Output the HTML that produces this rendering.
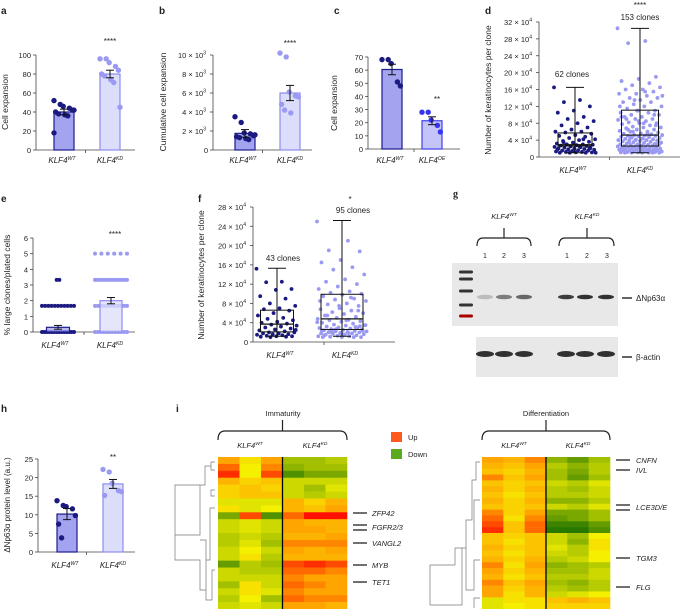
<!DOCTYPE html>
<html><head><meta charset="utf-8"><style>
body{margin:0;background:#fff}
svg{display:block;font-family:"Liberation Sans",sans-serif}
</style></head><body>
<svg id="fig" width="685" height="609" viewBox="0 0 685 609" xmlns="http://www.w3.org/2000/svg"></svg>
<script>
// ---- data ----
const aWT=[52,48,46,44,42,40,38,37,36,42,18], aKD=[96,96,92,88,84,80,78,74,71,45];
const aMean=[40,80], aSem=[3,4];
const bWT=[3.5,2.9,1.8,1.7,1.5,1.4,1.3,1.2,1.1,1.6], bKD=[10.2,9.8,6.1,5.7,5.6,4.8,4.2,3.9];
const bMean=[1.75,6.0], bSem=[0.4,0.8];
const cWT=[68,68,65,51,48], cKD=[28,28,22,18,13];
const cMean=[60.5,21.5], cSem=[4,3];
const hWT=[13.8,12.5,12.2,11.6,9.8,7.5,3.8], hKD=[22.2,21.5,18.5,16.5,16.2,15.2];
const hMean=[10.2,18.3], hSem=[1.5,1.2];
const eLevels=[0,1.67,3.33,5];
const eCountsWT=[14,11,2,0], eCountsKD=[12,12,14,6];
const eMean=[0.3,2.0], eSem=[0.12,0.2];
const dWT=[16.5,13.5,13,12,11,10.5,9.5,9,8.5,8,7.5,7,6.5,6,6,5.8,5.5,5.2,5,4.8,4.5,4.2,4,3.8,3.6,3.4,3.2,3,3,2.9,2.8,2.7,2.6,2.5,2.4,2.3,2.2,2.1,2,2,1.9,1.8,1.7,1.6,1.5,1.5,1.4,1.3,1.2,1.2,1.1,1.1,1,1,1,1,2.5,3.5,2,1.5,1.8,4.2];
const dKD=[30.5,27.5,27,19,18.5,18,17.5,17,16.5,16,16,15.5,15,15,14.5,14,14,13.5,13,13,12.5,12,12,11.5,11,11,10.5,10.5,10,10,9.5,9.5,9,9,8.8,8.5,8.2,8,8,7.8,7.5,7.2,7,7,6.8,6.5,6.5,6.2,6,6,5.8,5.6,5.5,5.4,5.2,5.2,5.1,5,5,4.9,4.8,4.7,4.6,4.5,4.4,4.3,4.2,4.1,4,4,4,3.9,3.8,3.7,3.6,3.5,3.4,3.3,3.2,3.1,3,3,2.9,2.8,2.8,2.7,2.6,2.6,2.5,2.5,2.4,2.3,2.2,2.2,2.1,2,2,2,1.9,1.9,1.8,1.8,1.7,1.7,1.6,1.6,1.5,1.5,1.4,1.4,1.3,1.3,1.2,1.2,1.1,1.1,1,1,1,1,1,1,4,4,4,3.5,3,2.5,2,1.5,6,7,8,9,10,11,12,5.5,4.8,3.8,2.4,1.6,1.2,13.5,14.5,15.5,6.5,7.5,8.5,9.5,1.3,2.1,3.2,4.4];
const dBoxWT=[1,2.6,2.9,5.7,16.5], dBoxKD=[1,2.6,5.2,11.1,30.5];
const fWT=[15.2,12.5,12.4,11,10.8,9.5,9,8,7.5,7,6.8,6.5,6,5.5,5,4.8,4.5,4.2,4,3.8,3.6,3.4,3.2,3,2.8,2.6,2.4,2.2,2,2,1.8,1.8,1.6,1.6,1.5,1.4,1.3,1.2,1.2,1.1,1.1,1,2.5];
const fKD=[25,21,19,18.8,17,16.5,15.5,15,14,13,12.5,12,11.5,11,10.5,10.2,10,9.8,9.5,9,8.8,8.5,8,7.8,7.5,7,6.8,6.5,6.2,6,5.8,5.5,5.2,5,4.8,4.6,4.5,4.3,4.2,4,3.8,3.6,3.5,3.4,3.2,3,3,2.9,2.8,2.7,2.6,2.5,2.4,2.3,2.2,2.2,2.1,2,2,1.9,1.8,1.8,1.7,1.6,1.5,1.5,1.4,1.3,1.2,1.2,1.1,1,1,1,1,2.5,3.5,4.5,5.5,6.5,7.5,8.5,9.2,2,2.3,1.6,1.4,3.1,2.7,4.1,1.9,2.1,3.3,1.7,2.4];
const fBoxWT=[1.2,2.1,3.7,6.6,15.3], fBoxKD=[1.2,2.6,4.8,9.9,25.2];
const heatLeft=[[0.5,0.1,0.5,-0.4,-0.4,-0.3],[0.7,0,0.6,-0.5,-0.4,-0.4],[0.9,0,0.8,-0.8,-0.6,-0.6],[0.4,0.2,0.3,-0.2,-0.2,-0.2],[0.2,0.3,0.2,-0.2,-0.4,-0.1],[0.2,0.3,0.3,-0.2,-0.3,-0.2],[-0.1,-0.1,-0.1,0.4,0.2,0.4],[0.1,-0.1,0,0.4,0.3,0.5],[-0.6,0.8,-0.8,0.7,1,1],[-0.2,-0.1,-0.2,0.5,0.4,0.4],[-0.2,-0.1,-0.2,0.5,0.5,0.4],[-0.3,-0.2,-0.3,0.4,0.4,0.5],[-0.3,-0.1,-0.4,0.6,0.6,0.6],[-0.2,0,-0.2,0.5,0.4,0.5],[-0.2,0.1,-0.3,0.4,0.4,0.4],[-0.7,-0.3,-0.4,0.8,0.9,0.8],[-0.2,-0.3,-0.3,0.7,0.7,0.6],[-0.2,-0.2,-0.2,0.6,0.5,0.5],[-0.4,0.1,-0.2,0.7,0.6,0.5],[-0.2,0.1,-0.1,0.6,0.5,0.5],[-0.3,0,-0.4,0.7,0.6,0.6],[-0.2,-0.1,-0.2,0.5,0.5,0.4]];
const heatRight=[[0.5,0.4,0.6,-0.5,-0.7,-0.4],[0.4,0.3,0.5,-0.3,-0.5,-0.3],[0.3,0.2,0.4,-0.4,-0.6,-0.3],[0.6,0.3,0.5,-0.4,-0.7,-0.4],[0.3,0.2,0.3,-0.2,-0.3,-0.1],[0.4,0.2,0.4,-0.3,-0.4,-0.2],[0.3,0.1,0.3,-0.3,-0.3,-0.2],[0.4,0.2,0.4,-0.5,-0.5,-0.3],[0.3,0.2,0.3,-0.2,-0.3,-0.1],[0.6,0.2,0.5,-0.6,-0.6,-0.4],[0.7,0.1,0.6,-0.7,-0.6,-0.4],[0.8,0.3,0.7,-0.9,-0.9,-0.7],[0.9,0.3,0.7,-1,-1,-0.8],[0.3,0.2,0.3,-0.2,-0.4,0],[0.3,0.1,0.3,-0.2,-0.5,0.1],[0.4,0.2,0.3,-0.1,-0.3,0.1],[0.3,0.1,0.3,-0.2,-0.3,0],[0.4,0.2,0.4,-0.3,-0.2,0],[0.6,0.1,0.5,-0.5,-0.4,-0.3],[0.5,0.2,0.4,-0.4,-0.4,-0.2],[0.4,0.1,0.3,-0.3,-0.3,-0.2],[0.6,0.3,0.5,-0.4,-0.5,-0.3],[0.5,0.2,0.4,-0.3,-0.4,-0.3],[0.5,0.1,0.4,-0.2,-0.1,0],[-0.1,0.1,0.1,0.3,0.4,0.3],[-0.1,0,0.1,0.2,0.2,0.2]];

// ---- helpers ----
const svg=document.getElementById('fig');
const NS='http://www.w3.org/2000/svg';
function mk(tag,attrs,name){const e=document.createElementNS(NS,tag);for(const k in attrs)e.setAttribute(k,attrs[k]);svg.appendChild(e);


return e;}
function txt(x,y,s,name,o){o=o||{};const t=mk('text',{x:x,y:y,'font-size':o.fs||8,'text-anchor':o.anchor||'middle',fill:o.fill||'#222','font-weight':o.fw||'normal'},name);
if(o.rot)t.setAttribute('transform','rotate(-90 '+x+' '+y+')');
if(o.family)t.setAttribute('font-family',o.family);
t.textContent=s;return t;}
function sup(x,y,base,sp,name,fs){fs=fs||8;const t=mk('text',{x:x,y:y,'font-size':fs,'text-anchor':'middle',fill:'#222','font-style':'italic'},name);
t.appendChild(document.createTextNode(base));const s=document.createElementNS(NS,'tspan');s.setAttribute('font-size',fs*0.65);s.setAttribute('dy',-fs*0.4);s.textContent=sp;t.appendChild(s);return t;}
function line(x1,y1,x2,y2,name,c,w){return mk('line',{x1:x1,y1:y1,x2:x2,y2:y2,stroke:c||'#444','stroke-width':w||0.8},name);}
function ySc(y0,y1,max){return v=>y0-(v/max)*(y0-y1);}
function axes(ax,y0,y1,xEnd,ticks,labels,sc,pfx,expo){
  line(ax,y0,ax,y1,pfx+'-y-axis');line(ax,y0,xEnd,y0,pfx+'-x-axis');
  line((ax+xEnd)/2,y0,(ax+xEnd)/2,y0+3,pfx+'-x-tick');
  ticks.forEach((v,i)=>{const y=sc(v);line(ax-3,y,ax,y,pfx+'-y-tick');
    if(expo&&v!==0){const t=txt(ax-5,y+3,labels[i]+' × 10',pfx+'-y-tick-label',{anchor:'end',fs:7.5});
      const s=document.createElementNS(NS,'tspan');s.setAttribute('font-size','5');s.setAttribute('dy','-3.5');s.textContent=expo;t.appendChild(s);
      t.setAttribute('x',ax-7);}
    else txt(ax-5,y+3,labels[i],pfx+'-y-tick-label',{anchor:'end',fs:7.5});});
}
function barPanel(p,ax,y0,y1,xEnd,max,ticks,labels,cx,bw,means,sems,pts,fills,strokes,dots,expo){
  const sc=ySc(y0,y1,max);axes(ax,y0,y1,xEnd,ticks,labels,sc,p,expo);
  [0,1].forEach(g=>{
    mk('rect',{x:cx[g]-bw/2,y:sc(means[g]),width:bw,height:y0-sc(means[g]),fill:fills[g],stroke:strokes[g],'stroke-width':1.2},p+'-bar-'+(g?'kd':'wt'));
    pts[g].forEach((v,i)=>{const off=((i%5)-2)*4.6+((i%2)?1:-1)*0.8;
      mk('circle',{cx:cx[g]+off,cy:sc(v),r:2.7,fill:dots[g]},p+'-point-'+(g?'kd':'wt'));});
    const ya=sc(means[g]+sems[g]),yb=sc(means[g]-sems[g]);
    line(cx[g],ya,cx[g],yb,p+'-error-bar','#111',1);line(cx[g]-4,ya,cx[g]+4,ya,p+'-error-cap','#111',1);line(cx[g]-4,yb,cx[g]+4,yb,p+'-error-cap','#111',1);
  });
  return sc;
}
function boxPanel(p,ax,y0,y1,xEnd,max,ticks,labels,cx,bws,boxes,pts,dots){
  const sc=ySc(y0,y1,max);axes(ax,y0,y1,xEnd,ticks,labels,sc,p,'4');
  [0,1].forEach(g=>{const b=boxes[g],w=bws[g];
    pts[g].forEach((v,i)=>{const f=((i*0.618034)%1)*2-1;
      mk('circle',{cx:cx[g]+f*(w/2+4),cy:sc(v),r:1.9,fill:dots[g]},p+'-point-'+(g?'kd':'wt'));});
    mk('rect',{x:cx[g]-w/2,y:sc(b[3]),width:w,height:sc(b[1])-sc(b[3]),fill:'none',stroke:'#111','stroke-width':1},p+'-box-'+(g?'kd':'wt'));
    line(cx[g]-w/2,sc(b[2]),cx[g]+w/2,sc(b[2]),p+'-median','#111',1.2);
    line(cx[g],sc(b[0]),cx[g],sc(b[4]),p+'-whisker','#111',1);
    line(cx[g]-9,sc(b[4]),cx[g]+9,sc(b[4]),p+'-whisker-cap','#111',1);
    line(cx[g]-9,sc(b[0]),cx[g]+9,sc(b[0]),p+'-whisker-cap','#111',1);
  });
}
function panelLabel(x,y,s){txt(x,y,s,'panel-label-'+s,{fs:10,fw:'bold',anchor:'start'});}
const WTD='#1a1a80',KDD='#9a9af2',WTF='#a3a3ef',KDF='#dcdcfb',WTS='#1c1c8c',KDS='#8c8cf0';

// ---- panel a ----
panelLabel(1,14,'a');
barPanel('a',36,150,55,135,100,[0,20,40,60,80,100],['0','20','40','60','80','100'],[64,110],20,aMean,aSem,[aWT,aKD],[WTF,KDF],[WTS,KDS],[WTD,KDD]);
txt(8,102,'Cell expansion','a-y-axis-title',{rot:1,fs:8.5});
txt(110,44,'****','a-significance',{fs:8});
sup(62,163,'KLF4','WT','a-x-label-wt');sup(110,163,'KLF4','KD','a-x-label-kd');
// ---- panel b ----
panelLabel(159,14,'b');
barPanel('b',213,150,55,312,10,[0,2,4,6,8,10],['0','2','4','6','8','10'],[245,290],20,bMean,bSem,[bWT,bKD],[WTF,KDF],[WTS,KDS],[WTD,KDD],'3');
txt(166,102,'Cumulative cell expansion','b-y-axis-title',{rot:1,fs:8.5});
txt(290,46,'****','b-significance');
sup(243,163,'KLF4','WT','b-x-label-wt');sup(290,163,'KLF4','KD','b-x-label-kd');
// ---- panel c ----
panelLabel(334,14,'c');
barPanel('c',368,149,57,460,70,[0,10,20,30,40,50,60,70],['0','10','20','30','40','50','60','70'],[392,432],20,cMean,cSem,[cWT,cKD],[WTF,'#c4c4f8'],[WTS,'#4040ee'],[WTD,'#3535f0']);
txt(337,103,'Cell expansion','c-y-axis-title',{rot:1,fs:8.5});
txt(437,102,'**','c-significance');
sup(390,163,'KLF4','WT','c-x-label-wt');sup(432,163,'KLF4','OE','c-x-label-oe');
// ---- panel d ----
panelLabel(485,14,'d');
boxPanel('d',539,157,22,680,32,[0,4,8,12,16,20,24,28,32],['0','4','8','12','16','20','24','28','32'],[575,640],[34,37],[dBoxWT,dBoxKD],[dWT,dKD],[WTD,KDD]);
txt(491,90,'Number of keratinocytes per clone','d-y-axis-title',{rot:1,fs:8.5});
txt(640,8,'****','d-significance');txt(640,20,'153 clones','d-kd-count',{fs:8});txt(572,77,'62 clones','d-wt-count',{fs:8});
sup(573,173,'KLF4','WT','d-x-label-wt');sup(640,173,'KLF4','KD','d-x-label-kd');
// ---- panel e ----
panelLabel(1,202,'e');
(function(){const sc=ySc(332,238,6);axes(33,332,238,135,[0,1,2,3,4,5,6],['0','1','2','3','4','5','6'],sc,'e');
 const cx=[58,111],bw=[23,22],cnts=[eCountsWT,eCountsKD],fl=[WTF,KDF],st=[WTS,KDS],dt=[WTD,KDD];
 [0,1].forEach(g=>{
  cnts[g].forEach((n,li)=>{const sp=n>3?32/(n-1):2.6;for(let i=0;i<n;i++){mk('circle',{cx:cx[g]-(n-1)*sp/2+i*sp,cy:sc(eLevels[li]),r:2,fill:dt[g]},'e-point-'+(g?'kd':'wt'));}});
  mk('rect',{x:cx[g]-bw[g]/2,y:sc(eMean[g]),width:bw[g],height:332-sc(eMean[g]),fill:fl[g],'fill-opacity':0.75,stroke:st[g],'stroke-width':1.2},'e-bar-'+(g?'kd':'wt'));
  const ya=sc(eMean[g]+eSem[g]),yb=sc(eMean[g]-eSem[g]);
  line(cx[g],ya,cx[g],yb,'e-error-bar','#111',1);line(cx[g]-4,ya,cx[g]+4,ya,'e-error-cap','#111',1);line(cx[g]-4,yb,cx[g]+4,yb,'e-error-cap','#111',1);
 });})();
txt(10,285,'% large clones/plated cells','e-y-axis-title',{rot:1,fs:8.5});
txt(115,237,'****','e-significance');
sup(55,348,'KLF4','WT','e-x-label-wt');sup(110,348,'KLF4','KD','e-x-label-kd');
// ---- panel f ----
panelLabel(198,202,'f');
boxPanel('f',253,342,207,395,28,[0,4,8,12,16,20,24,28],['0','4','8','12','16','20','24','28'],[277,342],[33,42],[fBoxWT,fBoxKD],[fWT,fKD],[WTD,KDD]);
txt(204,275,'Number of keratinocytes per clone','f-y-axis-title',{rot:1,fs:8.5});
txt(350,202,'*','f-significance');txt(353,213,'95 clones','f-kd-count');txt(283,261,'43 clones','f-wt-count');
sup(280,358,'KLF4','WT','f-x-label-wt');sup(345,358,'KLF4','KD','f-x-label-kd');
// ---- panel g ----
txt(453,197,'g','panel-label-g',{fs:10,fw:'bold',anchor:'start',family:'Liberation Serif'});
sup(504,219,'KLF4','WT','g-label-wt',7.5);sup(587,219,'KLF4','KD','g-label-kd',7.5);
[[477,531,504],[559,614,587]].forEach(b=>{
 mk('path',{d:`M${b[0]},246 Q${b[0]},238 ${b[0]+6},238 L${b[1]-6},238 Q${b[1]},238 ${b[1]},246 M${b[2]},238 L${b[2]},228`,fill:'none',stroke:'#222','stroke-width':1.2},'g-brace');});
[485,504,524,567,587,607].forEach((x,i)=>txt(x,258,String(i%3+1),'g-lane-number',{fs:7}));
mk('rect',{x:452,y:263,width:166,height:63,fill:'#e8e8e8'},'g-blot-dnp63');
mk('rect',{x:476,y:337,width:142,height:40,fill:'#e8e8e8'},'g-blot-actin');
[272,279,291,305,316].forEach((y,i)=>mk('rect',{x:459,y:y-1.5,width:14,height:3,rx:1.5,fill:i==4?'#a00':'#333'},'g-ladder-band'));
[[485,0.2],[504,0.5],[524,0.6],[566,0.8],[585,0.85],[606,0.85]].forEach(b=>mk('ellipse',{cx:b[0],cy:297,rx:8,ry:2.3,fill:'#111','fill-opacity':b[1]},'g-band-dnp63'));
[485,504,524,566,585,606].forEach(x=>mk('ellipse',{cx:x,cy:354,rx:9,ry:3,fill:'#111','fill-opacity':0.85},'g-band-actin'));
line(622,298,632,298,'g-dash','#111',1.3);line(622,357,632,357,'g-dash','#111',1.3);
txt(636,301,'ΔNp63α','g-label-dnp63',{anchor:'start',fs:8});txt(636,360,'β-actin','g-label-actin',{anchor:'start',fs:8});
// ---- panel h ----
panelLabel(1,412,'h');
barPanel('h',38,552,459,135,25,[0,5,10,15,20,25],['0','5','10','15','20','25'],[67,113],20,hMean,hSem,[hWT,hKD],[WTF,KDF],[WTS,KDS],[WTD,KDD]);
txt(10,505,'ΔNp63α protein level (a.u.)','h-y-axis-title',{rot:1,fs:8});
txt(113,460,'**','h-significance');
sup(65,568,'KLF4','WT','h-x-label-wt');sup(113,568,'KLF4','KD','h-x-label-kd');
// ---- panel i ----
panelLabel(176,412,'i');
function hcol(v){let r,g,b;if(v<0){const t=-v;r=245+(40-245)*t;g=240+(120-240)*t;b=0;}
 else if(v<0.5){const t=v/0.5;r=245+(255-245)*t;g=240+(165-240)*t;b=0;}else{const t=(v-0.5)/0.5;r=255;g=165-165*t*0.9;b=0;}
 return `rgb(${r|0},${g|0},${b|0})`;}
function heat(p,data,x0,x1,y0,y1){const rows=data.length,cw=(x1-x0)/6,rh=(y1-y0)/rows;
 data.forEach((row,ri)=>row.forEach((v,ci)=>mk('rect',{x:x0+ci*cw,y:y0+ri*rh,width:cw+0.3,height:rh+0.3,fill:hcol(v)},p+'-cell')));
 line((x0+x1)/2,y0,(x0+x1)/2,y1,p+'-divider','#000',1.3);}
heat('i-immaturity',heatLeft,218,347,457,609);
heat('i-differentiation',heatRight,482,610,457,609);
txt(283,416,'Immaturity','i-immaturity-title',{fs:7.5});txt(546,416,'Differentiation','i-differentiation-title',{fs:7.5});
[[218,347],[482,610]].forEach(b=>{const m=(b[0]+b[1])/2;
 mk('path',{d:`M${b[0]},440 Q${b[0]},431 ${b[0]+7},431 L${b[1]-7},431 Q${b[1]},431 ${b[1]},440 M${m},431 L${m},420`,fill:'none',stroke:'#222','stroke-width':1.2},'i-brace');});
sup(250,448,'KLF4','WT','i-left-label-wt',7.5);sup(315,448,'KLF4','KD','i-left-label-kd',7.5);
sup(514,448,'KLF4','WT','i-right-label-wt',7.5);sup(578,448,'KLF4','KD','i-right-label-kd',7.5);
mk('rect',{x:391,y:432,width:11,height:10,fill:'#ff5a1e'},'legend-swatch-up');txt(408,440,'Up','legend-label-up',{anchor:'start',fs:7.5});
mk('rect',{x:391,y:449,width:11,height:10,fill:'#5aaa1e'},'legend-swatch-down');txt(408,457,'Down','legend-label-down',{anchor:'start',fs:7.5});
[['ZFP42',[513]],['FGFR2/3',[525,530]],['VANGL2',[543]],['MYB',[565]],['TET1',[582]]].forEach(g=>{
 g[1].forEach(y=>line(353,y,367,y,'i-gene-tick','#111',1.2));txt(372,g[1][0]+(g[1].length>1?5:3),g[0],'i-gene-label',{anchor:'start',fs:7.5}).setAttribute('font-style','italic');});
[['CNFN',[460]],['IVL',[470]],['LCE3D/E',[505,510]],['TGM3',[558]],['FLG',[587]]].forEach(g=>{
 g[1].forEach(y=>line(616,y,630,y,'i-gene-tick','#111',1.2));txt(636,g[1][0]+(g[1].length>1?5:3),g[0],'i-gene-label',{anchor:'start',fs:7.5}).setAttribute('font-style','italic');});
mk('path',{d:'M215,462 L211,462 L211,470 L215,470 M211,466 L205,466 L205,485 L200,485 M205,485 L205,472 M215,490 L211,490 L211,496 L215,496 M200,485 L200,535 L175,535 L175,485 L200,485 M215,508 L210,508 L210,560 L206,560 L206,540 L200,540 M215,570 L212,570 L212,600 L206,600 L206,560 M206,590 L200,590 L200,560 L175,560 L175,535',fill:'none',stroke:'#777','stroke-width':0.7},'i-left-dendrogram');
mk('path',{d:'M480,462 L476,462 L476,480 L472,480 L472,520 L466,520 L466,548 L462,548 M480,500 L474,500 L474,540 M480,560 L474,560 L474,590 L466,590 L466,548 M462,548 L462,605 L430,605 L430,565 L455,565 M480,598 L474,598 L474,608 M455,565 L455,548 L462,548',fill:'none',stroke:'#777','stroke-width':0.7},'i-right-dendrogram');
</script>
</body></html>
